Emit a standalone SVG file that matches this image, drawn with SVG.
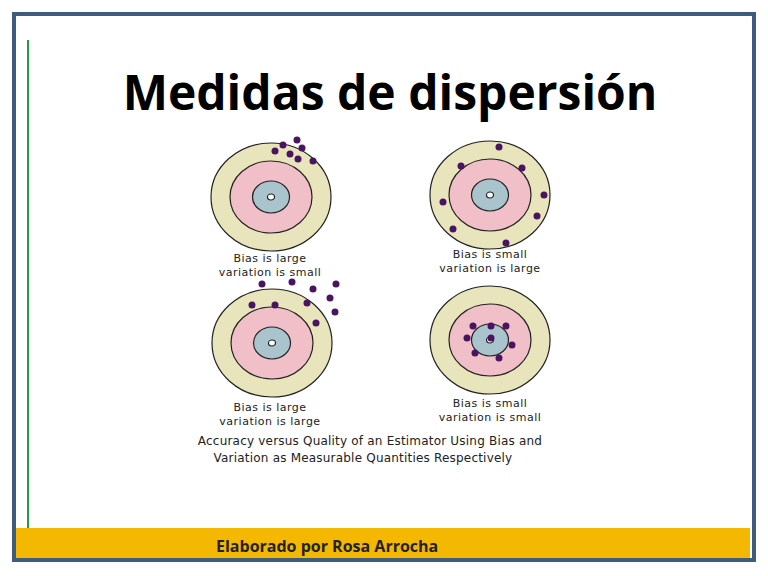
<svg xmlns="http://www.w3.org/2000/svg" width="768" height="576" viewBox="0 0 768 576">
<style>
.o{fill:#e8e4bc;stroke:#222;stroke-width:1.2}.p{fill:#f0bfc8;stroke:#222;stroke-width:1.2}.b{fill:#a9c4cc;stroke:#222;stroke-width:1.2}.c{fill:#fff;stroke:#222;stroke-width:1.2}
.d{fill:#4a1560}
.l{font-family:"DejaVu Sans",sans-serif;font-size:11px;text-anchor:middle;fill:#222;letter-spacing:0.5px}
.cap{font-family:"DejaVu Sans",sans-serif;font-size:12px;text-anchor:middle;fill:#222;letter-spacing:0.2px}
</style>
<defs>
<g id="t"><ellipse class="o" rx="60" ry="54"/><ellipse class="p" rx="41" ry="36"/><ellipse class="b" rx="18.5" ry="16"/><ellipse class="c" rx="3.5" ry="3"/></g>
</defs>
<rect width="768" height="576" fill="#fff"/>
<rect x="14" y="14" width="740" height="546" fill="none" stroke="#3f5b7e" stroke-width="4"/>
<line x1="28" y1="40" x2="28" y2="528" stroke="#2a9a4a" stroke-width="2"/>
<rect x="16" y="528" width="734" height="30" fill="#f5b800"/>
<text x="216" y="552" font-family="'Open Sans','DejaVu Sans',sans-serif" font-weight="bold" font-size="16" fill="#222">Elaborado por Rosa Arrocha</text>
<text x="390" y="110" font-family="'Open Sans','DejaVu Sans',sans-serif" font-weight="bold" font-size="48" text-anchor="middle" fill="#000">Medidas de dispersión</text>
<g id="t1"><use href="#t" x="271" y="197"/>
<g class="d"><circle cx="275" cy="151" r="3.5"/><circle cx="283" cy="145" r="3.5"/><circle cx="297" cy="140" r="3.5"/><circle cx="302" cy="148" r="3.5"/><circle cx="290" cy="154" r="3.5"/><circle cx="298" cy="159" r="3.5"/><circle cx="313" cy="161" r="3.5"/></g>
<text class="l" x="270" y="262">Bias is large</text><text class="l" x="270" y="276">variation is small</text></g>
<g id="t2"><use href="#t" x="490" y="195"/>
<g class="d"><circle cx="499" cy="147" r="3.5"/><circle cx="461" cy="166" r="3.5"/><circle cx="522" cy="168" r="3.5"/><circle cx="544" cy="195" r="3.5"/><circle cx="443" cy="202" r="3.5"/><circle cx="537" cy="216" r="3.5"/><circle cx="453" cy="229" r="3.5"/><circle cx="506" cy="243" r="3.5"/></g>
<text class="l" x="490" y="258">Bias is small</text><text class="l" x="490" y="272">variation is large</text></g>
<g id="t3"><use href="#t" x="272" y="343"/>
<g class="d"><circle cx="262" cy="284" r="3.5"/><circle cx="292" cy="282" r="3.5"/><circle cx="313" cy="289" r="3.5"/><circle cx="336" cy="284" r="3.5"/><circle cx="330" cy="298" r="3.5"/><circle cx="252" cy="305" r="3.5"/><circle cx="275" cy="305" r="3.5"/><circle cx="307" cy="303" r="3.5"/><circle cx="335" cy="312" r="3.5"/><circle cx="316" cy="323" r="3.5"/></g>
<text class="l" x="270" y="411">Bias is large</text><text class="l" x="270" y="425">variation is large</text></g>
<g id="t4"><use href="#t" x="490" y="340"/>
<g class="d"><circle cx="473" cy="326" r="3.5"/><circle cx="491" cy="326" r="3.5"/><circle cx="506" cy="326" r="3.5"/><circle cx="467" cy="338" r="3.5"/><circle cx="491" cy="338" r="3.5"/><circle cx="512" cy="345" r="3.5"/><circle cx="475" cy="353" r="3.5"/><circle cx="499" cy="358" r="3.5"/></g>
<text class="l" x="490" y="407">Bias is small</text><text class="l" x="490" y="421">variation is small</text></g>
<text class="cap" x="370" y="445">Accuracy versus Quality of an Estimator Using Bias and</text>
<text class="cap" x="363" y="462">Variation as Measurable Quantities Respectively</text>
</svg>
